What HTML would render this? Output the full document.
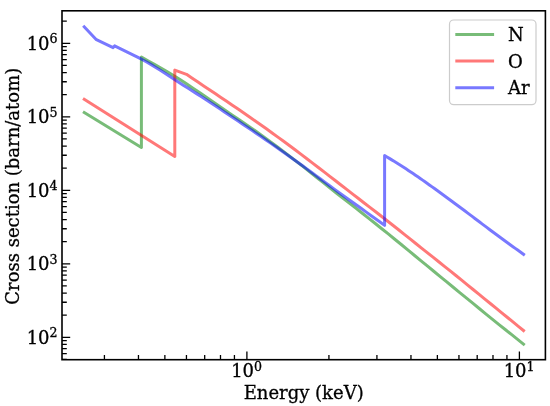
<!DOCTYPE html>
<html><head><meta charset="utf-8"><style>
html,body{margin:0;padding:0;background:#fff;overflow:hidden;}
svg{display:block;}
.t{font-family:"DejaVu Serif","Liberation Serif",serif;font-size:18.0px;fill:#000;stroke:#000;stroke-width:0.3px;}
.sup{font-size:12.60px;}
</style></head><body><svg width="550" height="406" viewBox="0 0 550 406"><clipPath id="c"><rect x="62.0" y="10.8" width="483.4" height="348.9"/></clipPath><g clip-path="url(#c)"><polyline points="83.00,111.70 141.40,147.50 141.40,57.10 147.90,60.74 154.39,64.40 160.89,68.11 167.39,71.90 173.88,75.80 180.38,79.84 186.88,84.04 193.37,88.38 199.87,92.81 206.37,97.30 212.86,101.82 219.36,106.32 225.86,110.78 232.35,115.18 238.85,119.55 245.35,123.94 251.84,128.40 258.34,132.96 264.84,137.64 271.33,142.42 277.83,147.27 284.33,152.16 290.82,157.11 297.32,162.11 303.82,167.19 310.31,172.33 316.81,177.51 323.31,182.69 329.80,187.84 336.30,192.96 342.79,198.03 349.29,203.09 355.79,208.16 362.28,213.24 368.78,218.36 375.28,223.51 381.77,228.71 388.27,233.94 394.77,239.22 401.26,244.53 407.76,249.87 414.26,255.23 420.75,260.58 427.25,265.93 433.75,271.28 440.24,276.61 446.74,281.95 453.24,287.27 459.73,292.60 466.23,297.91 472.73,303.21 479.22,308.51 485.72,313.79 492.22,319.05 498.71,324.30 505.21,329.51 511.71,334.70 518.20,339.88 524.70,345.05" fill="none" stroke="#008000" stroke-opacity="0.53" stroke-width="3" stroke-linejoin="round" stroke-linecap="butt"/><polyline points="83.00,98.40 174.80,156.50 174.80,70.10 186.50,74.30 192.23,78.17 197.96,82.03 203.70,85.89 209.43,89.73 215.16,93.58 220.89,97.43 226.63,101.30 232.36,105.17 238.09,109.07 243.82,113.00 249.55,116.96 255.29,120.96 261.02,125.01 266.75,129.09 272.48,133.22 278.22,137.38 283.95,141.57 289.68,145.80 295.41,150.06 301.14,154.36 306.88,158.71 312.61,163.09 318.34,167.49 324.07,171.92 329.81,176.35 335.54,180.78 341.27,185.22 347.00,189.65 352.73,194.08 358.47,198.52 364.20,202.94 369.93,207.37 375.66,211.81 381.39,216.27 387.13,220.74 392.86,225.25 398.59,229.79 404.32,234.35 410.06,238.92 415.79,243.49 421.52,248.06 427.25,252.62 432.98,257.17 438.72,261.73 444.45,266.30 450.18,270.90 455.91,275.52 461.65,280.16 467.38,284.82 473.11,289.49 478.84,294.17 484.57,298.84 490.31,303.51 496.04,308.17 501.77,312.84 507.50,317.51 513.24,322.18 518.97,326.85 524.70,331.52" fill="none" stroke="#ff0000" stroke-opacity="0.53" stroke-width="3" stroke-linejoin="round" stroke-linecap="butt"/><polyline points="83.20,25.80 96.40,39.70 113.10,47.60 114.60,45.90 119.18,48.15 123.75,50.38 128.33,52.58 132.91,54.79 137.48,57.06 142.06,59.45 146.63,61.98 151.21,64.66 155.79,67.45 160.36,70.33 164.94,73.28 169.52,76.26 174.09,79.26 178.67,82.24 183.24,85.18 187.82,88.08 192.40,90.97 196.97,93.87 201.55,96.80 206.13,99.77 210.70,102.78 215.28,105.82 219.85,108.87 224.43,111.92 229.01,114.97 233.58,118.02 238.16,121.07 242.74,124.13 247.31,127.20 251.89,130.29 256.46,133.40 261.04,136.53 265.62,139.68 270.19,142.86 274.77,146.04 279.35,149.24 283.92,152.45 288.50,155.68 293.07,158.93 297.65,162.20 302.23,165.52 306.80,168.87 311.38,172.24 315.96,175.63 320.53,179.02 325.11,182.41 329.68,185.77 334.26,189.11 338.84,192.42 343.41,195.71 347.99,198.99 352.57,202.27 357.14,205.55 361.72,208.84 366.29,212.13 370.87,215.44 375.45,218.76 380.02,222.08 384.60,225.40 384.60,155.52 386.98,156.96 389.35,158.40 391.73,159.85 394.11,161.31 396.48,162.78 398.86,164.27 401.23,165.78 403.61,167.30 405.99,168.85 408.36,170.42 410.74,172.01 413.12,173.61 415.49,175.22 417.87,176.85 420.24,178.49 422.62,180.14 425.00,181.80 427.37,183.47 429.75,185.16 432.13,186.85 434.50,188.55 436.88,190.26 439.25,191.98 441.63,193.71 444.01,195.44 446.38,197.18 448.76,198.93 451.14,200.69 453.51,202.45 455.89,204.21 458.26,205.98 460.64,207.76 463.02,209.54 465.39,211.32 467.77,213.10 470.15,214.89 472.52,216.67 474.90,218.46 477.27,220.25 479.65,222.04 482.03,223.83 484.40,225.61 486.78,227.40 489.16,229.18 491.53,230.95 493.91,232.73 496.28,234.49 498.66,236.25 501.04,238.00 503.41,239.75 505.79,241.48 508.17,243.22 510.54,244.94 512.92,246.66 515.29,248.38 517.67,250.09 520.05,251.80 522.42,253.51 524.80,255.22" fill="none" stroke="#0000ff" stroke-opacity="0.53" stroke-width="3" stroke-linejoin="round" stroke-linecap="butt"/></g><path d="M104.42 359.7 V354.90 M138.46 359.7 V354.90 M164.87 359.7 V354.90 M186.45 359.7 V354.90 M204.69 359.7 V354.90 M220.49 359.7 V354.90 M234.43 359.7 V354.90 M246.90 359.7 V351.50 M328.93 359.7 V354.90 M376.92 359.7 V354.90 M410.96 359.7 V354.90 M437.37 359.7 V354.90 M458.95 359.7 V354.90 M477.19 359.7 V354.90 M492.99 359.7 V354.90 M506.93 359.7 V354.90 M519.40 359.7 V351.50 M62.0 359.43 H66.80 M62.0 353.61 H66.80 M62.0 348.69 H66.80 M62.0 344.42 H66.80 M62.0 340.66 H66.80 M62.0 337.30 H70.20 M62.0 315.17 H66.80 M62.0 302.23 H66.80 M62.0 293.05 H66.80 M62.0 285.93 H66.80 M62.0 280.11 H66.80 M62.0 275.19 H66.80 M62.0 270.92 H66.80 M62.0 267.16 H66.80 M62.0 263.80 H70.20 M62.0 241.67 H66.80 M62.0 228.73 H66.80 M62.0 219.55 H66.80 M62.0 212.43 H66.80 M62.0 206.61 H66.80 M62.0 201.69 H66.80 M62.0 197.42 H66.80 M62.0 193.66 H66.80 M62.0 190.30 H70.20 M62.0 168.17 H66.80 M62.0 155.23 H66.80 M62.0 146.05 H66.80 M62.0 138.93 H66.80 M62.0 133.11 H66.80 M62.0 128.19 H66.80 M62.0 123.92 H66.80 M62.0 120.16 H66.80 M62.0 116.80 H70.20 M62.0 94.67 H66.80 M62.0 81.73 H66.80 M62.0 72.55 H66.80 M62.0 65.43 H66.80 M62.0 59.61 H66.80 M62.0 54.69 H66.80 M62.0 50.42 H66.80 M62.0 46.66 H66.80 M62.0 43.30 H70.20 M62.0 21.17 H66.80" stroke="#000" stroke-width="1.3" fill="none"/><rect x="449.5" y="20.0" width="86.5" height="84.7" rx="4.2" fill="#fff" fill-opacity="0.8" stroke="#cccccc" stroke-width="1.2"/><path d="M455.3 34.4 H494.1" stroke="#008000" stroke-opacity="0.53" stroke-width="3" stroke-linecap="butt"/><text x="508" y="41.0" class="t">N</text><path d="M455.3 61.0 H494.1" stroke="#ff0000" stroke-opacity="0.53" stroke-width="3" stroke-linecap="butt"/><text x="508" y="67.6" class="t">O</text><path d="M455.3 87.7 H494.1" stroke="#0000ff" stroke-opacity="0.53" stroke-width="3" stroke-linecap="butt"/><text x="508" y="94.3" class="t">Ar</text><rect x="62.0" y="10.8" width="483.40" height="348.90" fill="none" stroke="#000" stroke-width="1.6" stroke-linejoin="miter"/><text x="246.60" y="377.40" class="t" text-anchor="middle">10<tspan class="sup" dy="-6.5">0</tspan></text><text x="519.10" y="377.40" class="t" text-anchor="middle">10<tspan class="sup" dy="-6.5">1</tspan></text><text x="57.60" y="343.90" class="t" text-anchor="end">10<tspan class="sup" dy="-6.5">2</tspan></text><text x="57.60" y="270.40" class="t" text-anchor="end">10<tspan class="sup" dy="-6.5">3</tspan></text><text x="57.60" y="196.90" class="t" text-anchor="end">10<tspan class="sup" dy="-6.5">4</tspan></text><text x="57.60" y="123.40" class="t" text-anchor="end">10<tspan class="sup" dy="-6.5">5</tspan></text><text x="57.60" y="49.90" class="t" text-anchor="end">10<tspan class="sup" dy="-6.5">6</tspan></text><text x="303.70" y="398.7" class="t" text-anchor="middle">Energy (keV)</text><text transform="translate(18.8,186.25) rotate(-90)" class="t" text-anchor="middle">Cross section (barn/atom)</text></svg></body></html>
